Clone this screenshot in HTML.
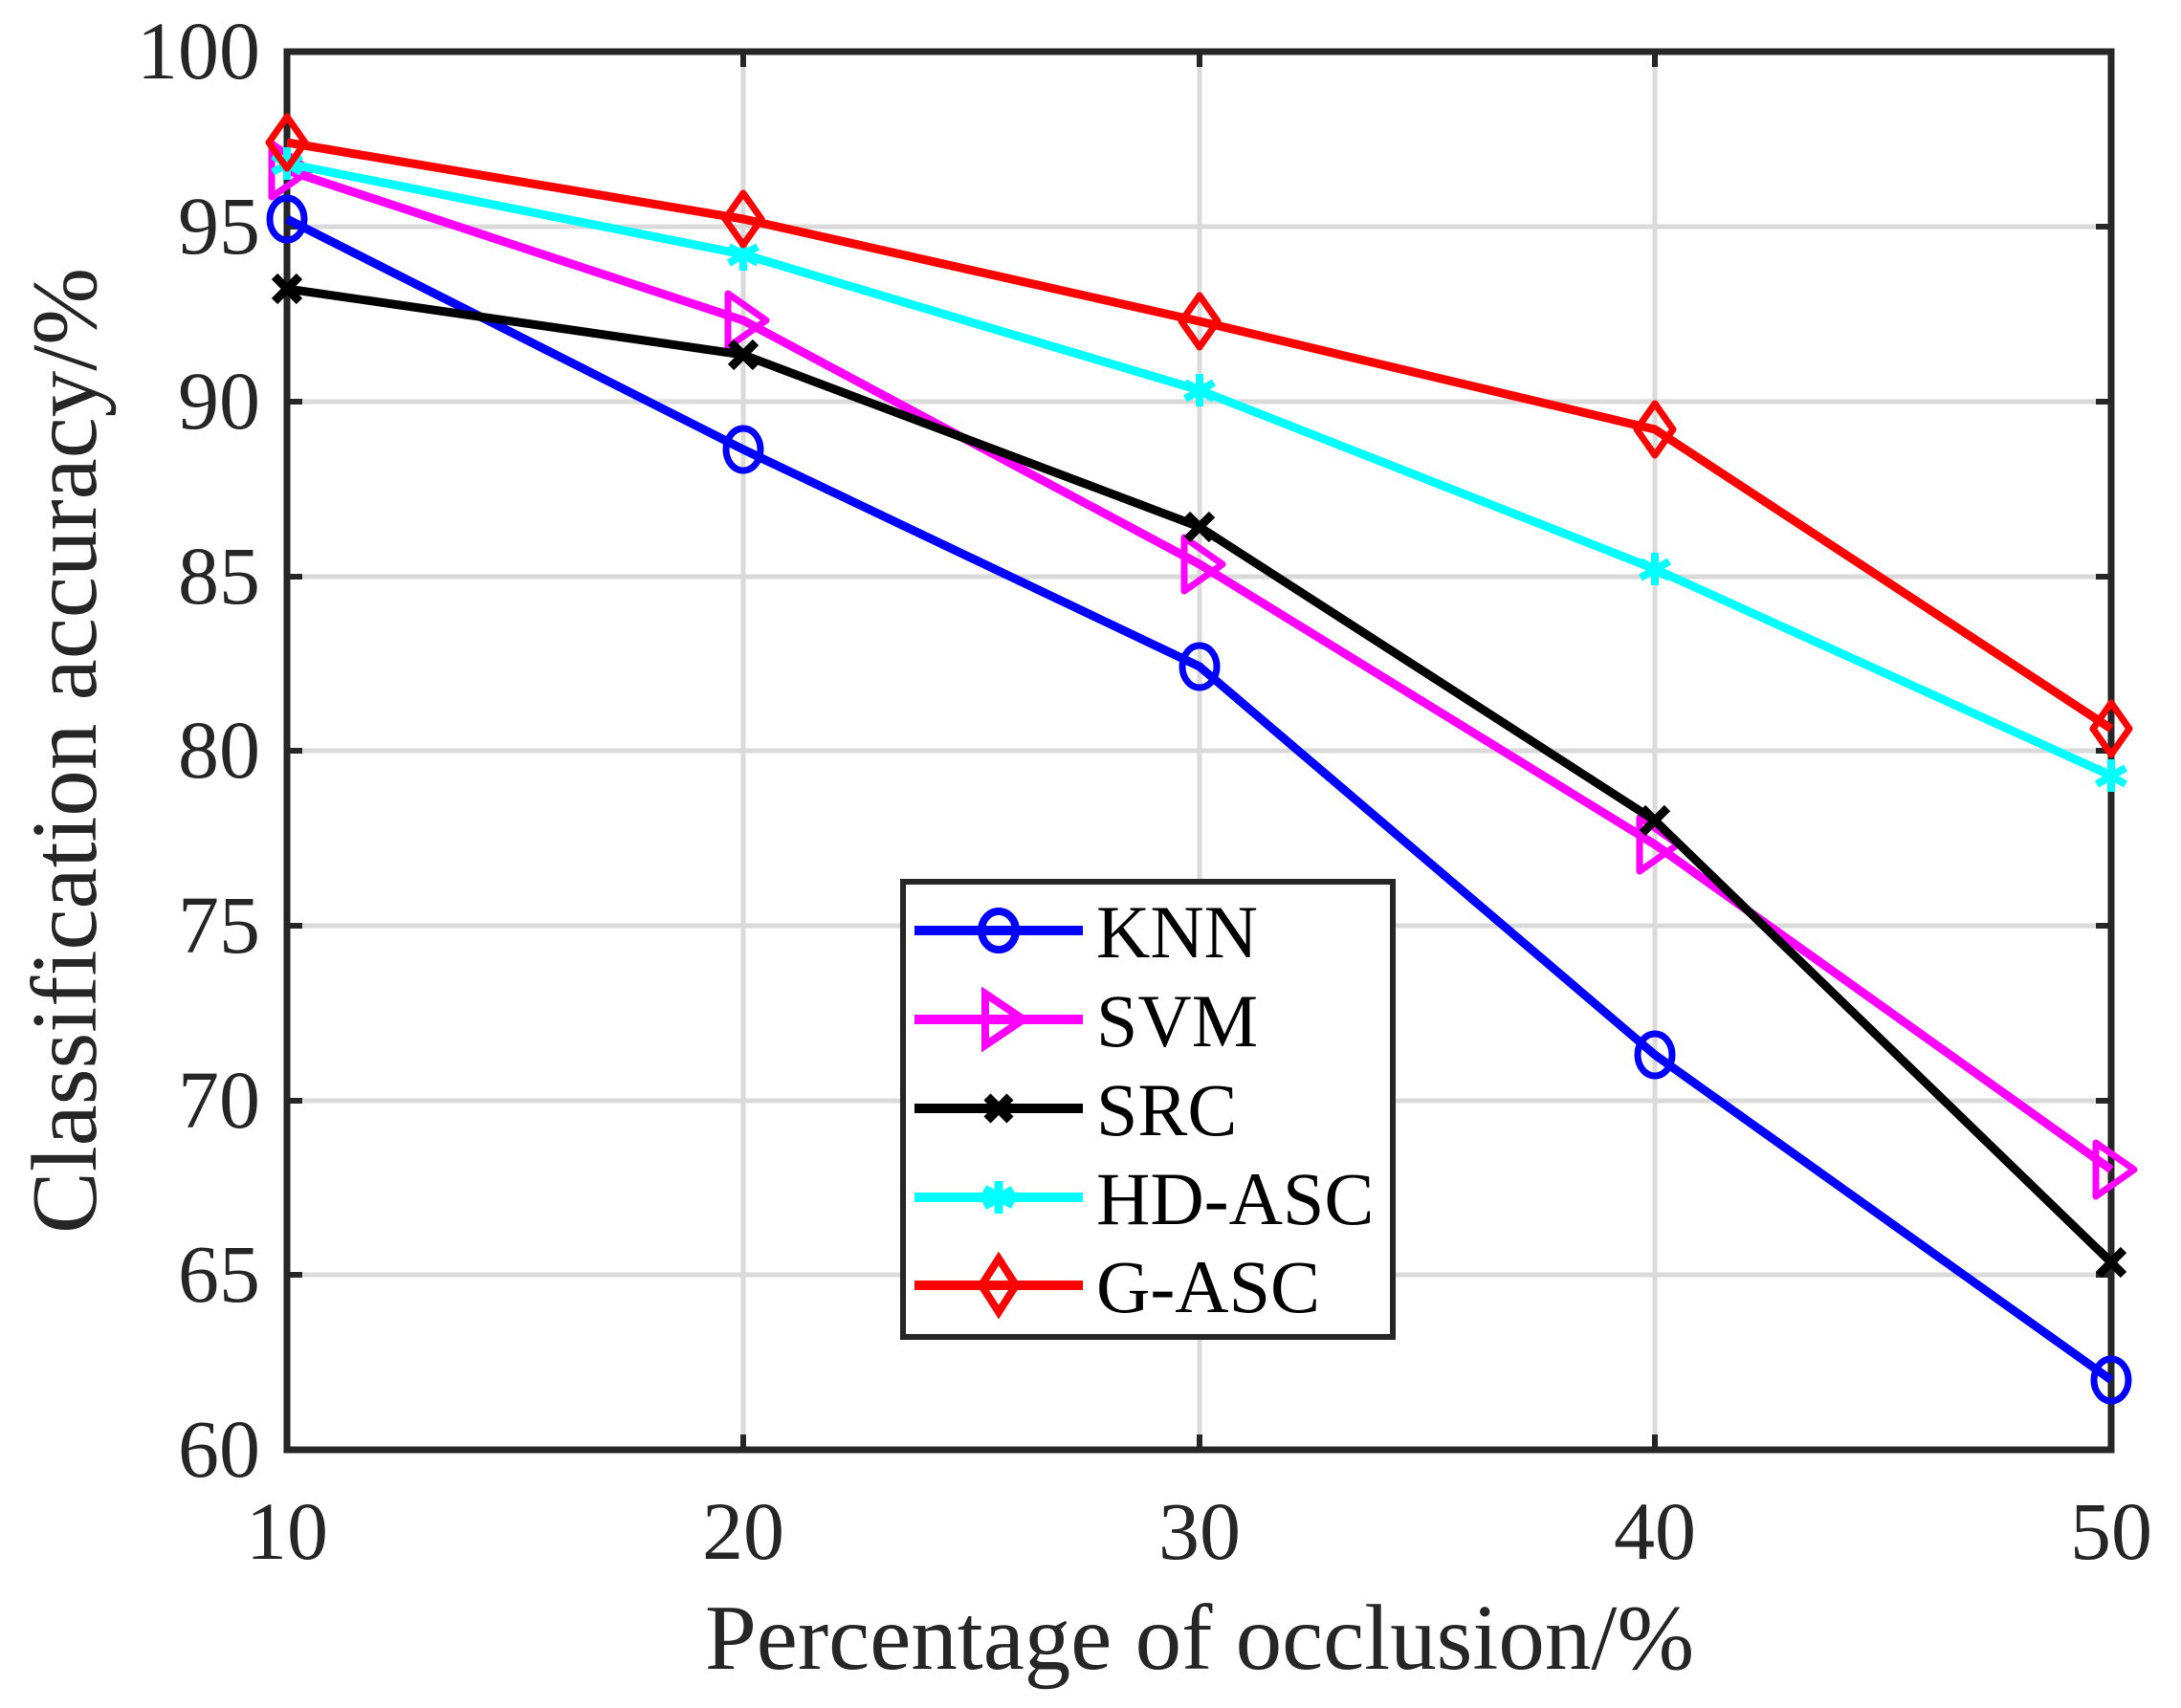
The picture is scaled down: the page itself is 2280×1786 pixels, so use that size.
<!DOCTYPE html>
<html><head><meta charset="utf-8"><style>html,body{margin:0;padding:0;background:#fff}svg{display:block}</style></head>
<body>
<svg xmlns="http://www.w3.org/2000/svg" width="2280" height="1786" viewBox="0 0 2280 1786" font-family="Liberation Serif, serif" fill="#262626">
<rect width="2280" height="1786" fill="#fff"/>
<g stroke="#dadada" stroke-width="5">
<line x1="300" y1="237" x2="2207" y2="237"/>
<line x1="300" y1="420" x2="2207" y2="420"/>
<line x1="300" y1="603" x2="2207" y2="603"/>
<line x1="300" y1="785" x2="2207" y2="785"/>
<line x1="300" y1="968" x2="2207" y2="968"/>
<line x1="300" y1="1151" x2="2207" y2="1151"/>
<line x1="300" y1="1333" x2="2207" y2="1333"/>
<line x1="777" y1="54" x2="777" y2="1516"/>
<line x1="1254" y1="54" x2="1254" y2="1516"/>
<line x1="1730" y1="54" x2="1730" y2="1516"/>
</g>
<g stroke="#262626" stroke-width="6">
<path d="M300,237h16M300,420h16M300,603h16M300,785h16M300,968h16M300,1151h16M300,1333h16M2207,237h-16M2207,420h-16M2207,603h-16M2207,785h-16M2207,968h-16M2207,1151h-16M2207,1333h-16M777,1516v-16M1254,1516v-16M1730,1516v-16M777,54v16M1254,54v16M1730,54v16"/>
<rect x="300" y="54" width="1907" height="1462" fill="none" stroke-width="7"/>
</g>
<g font-size="86" text-anchor="end">
<text x="272" y="82">100</text><text x="272" y="265">95</text><text x="272" y="448">90</text><text x="272" y="631">85</text><text x="272" y="813">80</text><text x="272" y="996">75</text><text x="272" y="1179">70</text><text x="272" y="1361">65</text><text x="272" y="1544">60</text>
</g>
<g font-size="86" text-anchor="middle">
<text x="300" y="1630">10</text><text x="777" y="1630">20</text><text x="1254" y="1630">30</text><text x="1730" y="1630">40</text><text x="2207" y="1630">50</text>
<text x="1254" y="1745" font-size="97">Percentage of occlusion/%</text>
<text transform="translate(100,785) rotate(-90)" font-size="97">Classification accuracy/%</text>
</g>
<g fill="none" stroke-width="9" stroke-linejoin="round">
<polyline stroke="#0000ff" points="300,229 777,470 1254,697 1730,1103 2207,1443"/>
<g stroke="#0000ff" stroke-width="7"><ellipse cx="300" cy="229" rx="18" ry="22"/><ellipse cx="777" cy="470" rx="18" ry="22"/><ellipse cx="1254" cy="697" rx="18" ry="22"/><ellipse cx="1730" cy="1103" rx="18" ry="22"/><ellipse cx="2207" cy="1443" rx="18" ry="22"/></g>
<polyline stroke="#ff00ff" points="300,178 777,335 1254,590 1730,883 2207,1223"/>
<g stroke="#ff00ff" stroke-width="7"><path d="M284,150 L324,178 L284,206Z"/><path d="M761,307 L801,335 L761,363Z"/><path d="M1238,562 L1278,590 L1238,618Z"/><path d="M1714,855 L1754,883 L1714,911Z"/><path d="M2191,1195 L2231,1223 L2191,1251Z"/></g>
<polyline stroke="#000" points="300,302 777,371 1254,551 1730,858 2207,1320"/>
<g stroke="#000" stroke-width="9"><path d="M287,289l26,26m0,-26l-26,26M764,358l26,26m0,-26l-26,26M1241,538l26,26m0,-26l-26,26M1717,845l26,26m0,-26l-26,26M2194,1307l26,26m0,-26l-26,26"/></g>
<polyline stroke="#00ffff" points="300,171 777,266 1254,408 1730,595 2207,811"/>
<g stroke="#00ffff" stroke-width="8"><path d="M300,154v34M285,163l30,17M285,180l30,-17M777,249v34M762,258l30,17M762,275l30,-17M1254,391v34M1239,400l30,17M1239,417l30,-17M1730,578v34M1715,587l30,17M1715,604l30,-17M2207,794v34M2192,803l30,17M2192,820l30,-17"/></g>
<polyline stroke="#ff0000" points="300,149 777,229 1254,336 1730,449 2207,762"/>
<g stroke="#ff0000" stroke-width="7"><path d="M300,122l19,27l-19,27l-19,-27Z"/><path d="M777,202l19,27l-19,27l-19,-27Z"/><path d="M1254,309l19,27l-19,27l-19,-27Z"/><path d="M1730,422l19,27l-19,27l-19,-27Z"/><path d="M2207,735l19,27l-19,27l-19,-27Z"/></g>
</g>
<rect x="944" y="922" width="512" height="476" fill="#fff" stroke="#262626" stroke-width="6"/>
<g stroke-width="10" fill="none">
<line x1="956" y1="973" x2="1132" y2="973" stroke="#0000ff"/><ellipse cx="1044" cy="973" rx="18" ry="20" stroke="#0000ff" stroke-width="8"/>
<line x1="956" y1="1066" x2="1132" y2="1066" stroke="#ff00ff"/><path d="M1030,1039 L1070,1066 L1030,1093Z" stroke="#ff00ff" stroke-width="8"/>
<line x1="956" y1="1159" x2="1132" y2="1159" stroke="#000"/><path d="M1032,1147l24,24m0,-24l-24,24" stroke="#000" stroke-width="10"/>
<line x1="956" y1="1252" x2="1132" y2="1252" stroke="#00ffff"/><path d="M1044,1235v34M1029,1243l30,17M1029,1261l30,-17" stroke="#00ffff" stroke-width="9"/>
<line x1="956" y1="1344" x2="1132" y2="1344" stroke="#ff0000"/><path d="M1044,1316l18,28l-18,28l-18,-28Z" stroke="#ff0000" stroke-width="8"/>
</g>
<g font-size="78" fill="#000">
<text x="1146" y="1001">KNN</text><text x="1146" y="1094">SVM</text><text x="1146" y="1187">SRC</text><text x="1146" y="1280">HD-ASC</text><text x="1146" y="1372">G-ASC</text>
</g>
</svg>
</body></html>
